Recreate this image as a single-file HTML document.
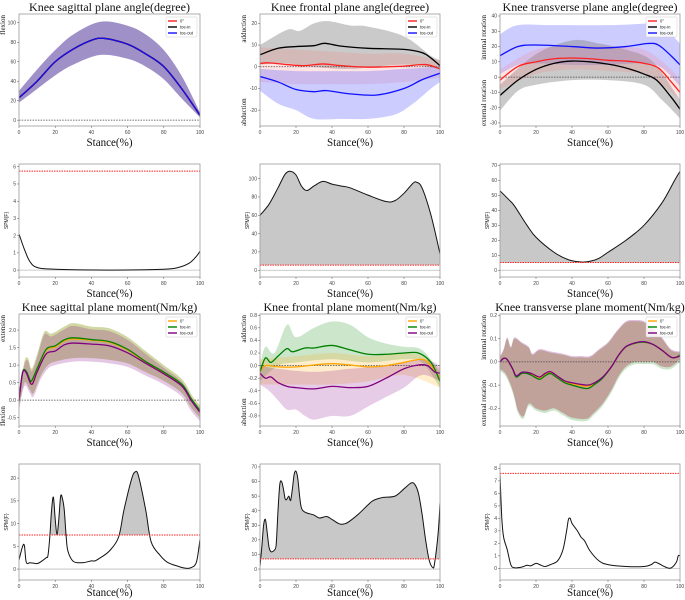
<!DOCTYPE html>
<html><head><meta charset="utf-8">
<style>
html,body{margin:0;padding:0;background:#fff;}
svg{display:block;font-family:"Liberation Serif",serif;}
.tk{font-family:"Liberation Sans",sans-serif;font-size:5px;fill:#444;}
</style></head>
<body>
<svg id="fig" width="685" height="600" viewBox="0 0 685 600" xmlns="http://www.w3.org/2000/svg"></svg>
<script>
// ---------- DATA ----------
const xTicks = [0,20,40,60,80,100];
// Row1 sagittal angle
const sagAngMean = [[0,23],[10,40],[20,60],[30,73],[40,82],[47,84],[60,78],[70,68],[80,55],[90,32],[100,5]];
const sagAngUp = [[0,30],[10,52],[20,72],[30,88],[45,101],[60,97],[70,88],[80,72],[90,45],[100,8]];
const sagAngLo = [[0,18],[10,32],[20,46],[30,57],[45,67],[60,63],[70,55],[80,42],[90,22],[100,3]];
// Row1 frontal angle
const frAngIn = [[0,5.5],[10,8.5],[20,9.3],[30,9.7],[36,10.8],[45,9.5],[60,8.5],[80,8],[90,6.5],[95,4],[100,0.5]];
const frAngZero = [[0,1.5],[5,1.8],[15,1],[25,0.5],[35,1.3],[45,0.5],[60,-0.2],[80,0.3],[92,1],[100,-1]];
const frAngOut = [[0,-4.5],[10,-7],[20,-10.5],[30,-11.5],[37,-11],[50,-12.5],[65,-13],[80,-10],[90,-6],[100,-3]];
const frAngInUp = [[0,10],[15,17],[22,16.5],[30,20],[38,21],[50,19],[60,18.5],[80,14],[95,5],[100,3]];
const frAngInLo = [[0,1],[15,1.5],[30,0],[50,-1],[80,1],[100,-1]];
const frAngZeroUp = [[0,9],[20,8],[40,7],[60,6],[80,6],[100,3]];
const frAngZeroLo = [[0,-7],[20,-8],[40,-8],[60,-8],[80,-7],[100,-5]];
const frAngOutUp = [[0,-1],[20,-2],[40,-2],[60,-2],[80,-1],[100,0]];
const frAngOutLo = [[0,-11],[10,-17],[20,-20],[30,-24],[45,-24],[60,-24],[75,-22],[85,-17],[95,-10],[100,-7]];
// Row1 transverse angle
const trAngZero = [[0,-2],[10,7],[20,10],[30,12],[40,12.5],[50,12],[60,11],[70,10.5],[80,9],[88,6],[95,-3],[100,-10]];
const trAngIn = [[0,-12],[10,-2],[20,5],[30,9],[40,10.5],[50,10],[60,8.5],[70,6],[80,2],[87,-2],[95,-13],[100,-21]];
const trAngOut = [[0,14],[10,20],[20,21],[40,20],[55,19],[70,20],[82,22],[88,21],[95,14],[100,8]];
const trAngOutUp = [[0,28],[10,34],[30,34],[60,34],[80,35],[88,36],[100,22]];
const trAngOutLo = [[0,2],[10,8],[20,9],[40,8],[60,8],[80,9],[90,6],[100,-6]];
const trAngInUp = [[0,-5],[20,15],[40,24],[55,22],[70,18],[85,10],[100,-15]];
const trAngInLo = [[0,-22],[10,-9],[20,-5],[40,-2],[60,-2],[80,-5],[90,-15],[100,-27]];
const trAngZeroUp = [[0,5],[20,18],[40,20],[60,20],[80,18],[95,5],[100,-3]];
const trAngZeroLo = [[0,-8],[20,2],[40,5],[60,4],[80,2],[90,-5],[100,-15]];
// Row2 SPM angle
const spmSagAng = [[0,2.1],[3,1.2],[6,0.5],[10,0.15],[20,0.05],[50,0],[80,0.05],[88,0.15],[94,0.4],[98,0.8],[100,1.1]];
const spmSagAngThr = [5.75];
const spmFrAng = [[0,60],[5,72],[10,90],[14,105],[17,108],[20,104],[23,92],[26,87],[30,92],[35,97],[40,94],[45,92],[50,90],[60,82],[70,75],[75,76],[80,84],[85,95],[87,96],[90,90],[95,60],[100,18]];
const spmFrAngThr = [5.5];
const spmTrAng = [[0,53],[5,47],[8,43],[15,30],[20,22],[30,12],[38,7],[45,5.5],[50,6],[55,8],[60,12],[70,20],[80,30],[90,45],[97,60],[100,66]];
const spmTrAngThr = [5.2];
// Row3 sagittal moment
const sagMomIn = [[0,0],[2,0.8],[4,0.82],[6,0.58],[7,0.55],[10,0.9],[15,1.45],[20,1.55],[25,1.72],[30,1.78],[40,1.73],[50,1.67],[60,1.45],[70,1.1],[80,0.8],[90,0.45],[95,0.05],[100,-0.3]];
const sagMomZero = [[0,0],[2,0.79],[4,0.8],[6,0.56],[7,0.53],[10,0.88],[15,1.42],[20,1.52],[25,1.69],[30,1.75],[40,1.71],[50,1.65],[60,1.43],[70,1.08],[80,0.78],[90,0.43],[95,0.03],[100,-0.32]];
const sagMomOut = [[0,0],[2,0.78],[4,0.78],[7,0.45],[10,0.8],[15,1.32],[20,1.4],[25,1.58],[30,1.63],[40,1.6],[50,1.55],[60,1.35],[70,1.05],[80,0.75],[90,0.4],[95,0],[100,-0.35]];
const sagMomUp = [[0,0.2],[3,1.1],[5,1.2],[7,0.9],[10,1.3],[14,1.95],[18,1.9],[25,2.1],[30,2.2],[40,2.1],[50,2.05],[60,1.8],[70,1.4],[80,1.0],[90,0.6],[96,0.1],[100,-0.15]];
const sagMomLo = [[0,-0.2],[3,0.5],[6,0.3],[8,0.2],[12,0.7],[16,1.0],[20,1.1],[30,1.2],[40,1.2],[50,1.15],[60,1.05],[70,0.8],[80,0.55],[90,0.2],[95,-0.2],[100,-0.5]];
// Row3 frontal moment
const frMomZero = [[0,-0.1],[3,0],[10,-0.02],[20,-0.02],[40,0.03],[60,-0.02],[70,0],[80,0.05],[90,0.1],[95,0],[100,-0.2]];
const frMomIn = [[0,-0.1],[3,0.12],[6,0.05],[10,0.15],[15,0.27],[18,0.22],[25,0.28],[30,0.28],[40,0.32],[50,0.25],[60,0.18],[70,0.18],[80,0.2],[88,0.2],[95,0.05],[100,-0.25]];
const frMomOut = [[0,-0.12],[3,-0.2],[6,-0.18],[10,-0.27],[15,-0.33],[20,-0.35],[30,-0.37],[40,-0.33],[50,-0.35],[60,-0.33],[70,-0.2],[80,-0.05],[88,0.01],[93,0],[97,-0.1],[100,-0.12]];
const frMomInUp = [[0,0],[3,0.3],[8,0.2],[15,0.65],[20,0.45],[30,0.6],[40,0.7],[50,0.65],[60,0.45],[70,0.35],[80,0.3],[90,0.25],[100,-0.1]];
const frMomInLo = [[0,-0.25],[10,0.0],[20,0.05],[40,0.1],[60,0.05],[80,0.1],[90,0.05],[100,-0.35]];
const frMomZeroUp = [[0,0.1],[20,0.15],[40,0.2],[60,0.15],[80,0.2],[90,0.15],[100,-0.05]];
const frMomZeroLo = [[0,-0.3],[20,-0.3],[40,-0.3],[60,-0.25],[80,-0.15],[100,-0.35]];
const frMomOutUp = [[0,0],[10,-0.05],[30,-0.1],[50,-0.05],[70,0],[90,0.1],[100,0]];
const frMomOutLo = [[0,-0.3],[5,-0.4],[10,-0.55],[15,-0.7],[20,-0.7],[25,-0.8],[30,-0.86],[40,-0.8],[50,-0.8],[60,-0.65],[70,-0.5],[80,-0.35],[90,-0.15],[100,-0.25]];
// Row3 transverse moment
const trMomIn = [[0,0],[2,0.015],[4,0.01],[7,-0.03],[9,-0.065],[12,-0.05],[15,-0.05],[18,-0.06],[22,-0.075],[25,-0.06],[28,-0.05],[32,-0.07],[36,-0.09],[40,-0.1],[48,-0.115],[52,-0.1],[57,-0.07],[62,-0.02],[66,0.03],[70,0.065],[75,0.08],[80,0.085],[85,0.075],[90,0.05],[95,0.02],[98,0.02],[100,0.03]];
const trMomZero = [[0,0],[2,0.015],[4,0.01],[7,-0.03],[9,-0.062],[12,-0.047],[15,-0.047],[18,-0.055],[22,-0.068],[25,-0.053],[28,-0.045],[32,-0.064],[36,-0.084],[40,-0.094],[48,-0.105],[52,-0.095],[57,-0.068],[62,-0.02],[66,0.03],[70,0.065],[75,0.08],[80,0.085],[85,0.075],[90,0.05],[95,0.02],[98,0.02],[100,0.025]];
const trMomOut = [[0,0],[2,0.015],[4,0.01],[7,-0.03],[9,-0.06],[12,-0.045],[15,-0.045],[18,-0.052],[22,-0.065],[25,-0.05],[28,-0.042],[32,-0.062],[36,-0.082],[40,-0.09],[48,-0.1],[52,-0.092],[57,-0.066],[62,-0.02],[66,0.03],[70,0.066],[75,0.082],[80,0.087],[85,0.075],[90,0.05],[95,0.02],[98,0.02],[100,0.025]];
const trMomUp = [[0,0.02],[2,0.05],[4,0.1],[6,0.06],[8,0.1],[12,0.08],[16,0.06],[18,0.03],[22,0.05],[28,0.04],[35,0.03],[40,0.02],[45,0.02],[50,0.02],[55,0.05],[60,0.08],[65,0.13],[70,0.17],[75,0.175],[80,0.17],[85,0.14],[90,0.1],[95,0.05],[100,0.04]];
const trMomLo = [[0,-0.03],[3,-0.05],[6,-0.1],[8,-0.15],[10,-0.21],[13,-0.235],[16,-0.18],[20,-0.2],[25,-0.21],[30,-0.2],[35,-0.22],[40,-0.24],[48,-0.245],[52,-0.22],[57,-0.18],[62,-0.12],[66,-0.06],[70,-0.02],[75,0],[80,0],[85,0],[90,-0.02],[95,-0.02],[100,0.01]];
// Row4 SPM moment
const spmSagMom = [[0,2],[2,5],[3,5.1],[4,1.5],[6,1.4],[8,1.3],[10,1.2],[12,1.6],[15,2.5],[16,3],[17,7],[18,13],[19,15.8],[20,11],[21,7.5],[22,11],[23,16],[24,15.5],[25,13],[26,7.5],[27,4],[30,1.7],[35,1.4],[40,1.8],[42,1.8],[45,2.5],[50,4],[55,7],[58,13],[62,19.5],[64,21.3],[66,20.5],[70,13],[73,6],[78,3],[82,1.5],[88,0.6],[92,0.2],[95,0.3],[98,1.5],[100,6.5]];
const spmSagMomThr = [7.5];
const spmFrMom = [[0,2],[1,15],[2,30],[3,34],[4,25],[5,15],[6,12],[7,12],[8,13],[9,17],[10,40],[11,58],[12,60],[13,55],[14,48],[15,48],[16,50],[17,47],[18,55],[19,65],[20,67],[21,62],[22,50],[23,42],[25,39],[30,37],[33,35],[37,36],[40,34],[44,31],[47,31],[50,33],[55,38],[60,44],[63,47],[68,49],[75,50],[80,55],[84,59],[86,58],[88,52],[90,38],[92,20],[94,6],[96,1],[97,4],[99,25],[100,45]];
const spmFrMomThr = [7];
const spmTrMom = [[0,7.5],[1,4],[2,2.5],[4,1.5],[6,0.3],[8,0.05],[12,0.1],[15,0.25],[17,0.2],[20,0.4],[22,0.3],[25,0.15],[28,0.3],[32,0.6],[35,1.5],[37,3],[38,3.9],[39,4],[40,3.6],[43,3],[45,2.5],[47,2.2],[50,1.4],[55,0.6],[60,0.3],[70,0.15],[80,0.15],[84,0.3],[86,0.5],[88,0.4],[92,0.1],[95,0.03],[98,0.5],[99,1],[100,1]];
const spmTrMomThr = [7.6];

// ---------- DRAW ----------
const NS = "http://www.w3.org/2000/svg";
const svg = document.getElementById('fig');
function mk(tag, attrs, parent){ const e=document.createElementNS(NS,tag); for(const k in attrs) e.setAttribute(k,attrs[k]); (parent||svg).appendChild(e); return e; }
const COLS=[[19,200],[260,440],[500,680]];
const ROWS=[[14,126],[164,277],[314,426],[464,580]];
const STANCE_OFF=[20,20,20,16];
function axes(c,r,ymin,ymax){
  const [x0,x1]=COLS[c],[y0,y1]=ROWS[r];
  return { X:v=>x0+(x1-x0)*v/100, Y:v=>y1-(y1-y0)*(v-ymin)/(ymax-ymin), x0,x1,y0,y1 };
}
function smooth(pts){
  let d='';
  for(let i=0;i<pts.length;i++){
    const p=pts[i];
    if(i===0){ d+='M'+p[0].toFixed(2)+','+p[1].toFixed(2); continue; }
    const p0=pts[Math.max(i-2,0)],p1=pts[i-1],p3=pts[Math.min(i+1,pts.length-1)];
    const c1=[p1[0]+(p[0]-p0[0])/6,p1[1]+(p[1]-p0[1])/6];
    const c2=[p[0]-(p3[0]-p1[0])/6,p[1]-(p3[1]-p1[1])/6];
    d+='C'+c1[0].toFixed(2)+','+c1[1].toFixed(2)+' '+c2[0].toFixed(2)+','+c2[1].toFixed(2)+' '+p[0].toFixed(2)+','+p[1].toFixed(2);
  }
  return d;
}
function px(a,data){ return data.map(d=>[a.X(d[0]),a.Y(d[1])]); }
function line(a,data,color,w,name,g){
  const e=mk('path',{d:smooth(px(a,data)),fill:'none',stroke:color,'stroke-width':w,'stroke-linejoin':'round'},g);
  
  
}
function band(a,up,lo,color,name,g){
  const u=px(a,up), l=px(a,lo).reverse();
  const d=smooth(u)+'L'+smooth(l).slice(1)+'Z';
  const e=mk('path',{d:d,fill:color,stroke:'none'},g);
  
  
}
let clipId=0;
function panel(c,r,ymin,ymax,yt,fmt,opts){
  const a=axes(c,r,ymin,ymax);
  const g=mk('g',{});
  
  
  const cid='clip'+(clipId++);
  const cp=mk('clipPath',{id:cid},g); mk('rect',{x:a.x0,y:a.y0,width:a.x1-a.x0,height:a.y1-a.y0},cp);
  const plot=mk('g',{'clip-path':'url(#'+cid+')'},g);
  opts.draw(a,plot);
  mk('rect',{x:a.x0,y:a.y0,width:a.x1-a.x0,height:a.y1-a.y0,fill:'none',stroke:'#9a9a9a','stroke-width':0.8},g);
  yt.forEach(v=>{
    const y=a.Y(v);
    mk('line',{x1:a.x0-2,x2:a.x0,y1:y,y2:y,stroke:'#555','stroke-width':0.5},g);
    const t=mk('text',{x:a.x0-3,y:y+1.7,'text-anchor':'end',class:'tk'},g); t.textContent=fmt(v);
    
    
  });
  xTicks.forEach(v=>{
    const x=a.X(v);
    mk('line',{x1:x,x2:x,y1:a.y1,y2:a.y1+2,stroke:'#555','stroke-width':0.5},g);
    const t=mk('text',{x:x,y:a.y1+8,'text-anchor':'middle',class:'tk'},g); t.textContent=v;
    
    
  });
  const sx=(a.x0+a.x1)/2;
  const st=mk('text',{x:sx,y:a.y1+STANCE_OFF[r],'text-anchor':'middle','font-size':12,fill:'#111',textLength:46,lengthAdjust:'spacingAndGlyphs'},g); st.textContent='Stance(%)';
  
  
  if(opts.title){
    const t=mk('text',{x:sx,y:a.y0-3,'text-anchor':'middle','font-size':12,fill:'#111'},g); t.textContent=opts.title;
    
    
  }
  const lx=a.x0-14;
  if(opts.ylabTop){
    const t=mk('text',{x:0,y:0,'text-anchor':'end','font-size':7,fill:'#111',transform:'translate('+lx+','+(a.y0+1)+') rotate(-90)'},g); t.textContent=opts.ylabTop;
    
    
  }
  if(opts.ylabBot){
    const t=mk('text',{x:0,y:0,'text-anchor':'start','font-size':7,fill:'#111',transform:'translate('+lx+','+(a.y1)+') rotate(-90)'},g); t.textContent=opts.ylabBot;
    
    
  }
  if(opts.spm){
    const t=mk('text',{x:0,y:0,'text-anchor':'middle','font-size':5,fill:'#222','font-family':'Liberation Sans',transform:'translate('+(a.x0-11)+','+((a.y0+a.y1)/2)+') rotate(-90)'},g); t.textContent='SPM{F}';
    
    
  }
  if(opts.legend){
    const lw=31, lh=20, lx0=a.x1-lw-3, ly0=a.y0+3;
    const lg=mk('g',{},g);
    
    
    mk('rect',{x:lx0,y:ly0,width:lw,height:lh,fill:'#fff','fill-opacity':0.85,stroke:'#ccc','stroke-width':0.5,rx:1},lg);
    opts.legend.forEach((it,i)=>{
      const y=ly0+4+i*6;
      mk('line',{x1:lx0+2,x2:lx0+11,y1:y,y2:y,stroke:it[1],'stroke-width':1.4},lg);
      const t=mk('text',{x:lx0+14,y:y+1.5,'font-size':4.2,fill:'#222','font-family':'Liberation Sans'},lg); t.textContent=it[0];
      
      
    });
  }
  return a;
}
function zeroDash(a,g){ mk('line',{x1:a.x0,x2:a.x1,y1:a.Y(0),y2:a.Y(0),stroke:'#444','stroke-width':0.7,'stroke-dasharray':'1.5,1.2'},g); }
function spmDraw(data,thr,fill){
  return (a,g)=>{
    mk('line',{x1:a.x0,x2:a.x1,y1:a.Y(0),y2:a.Y(0),stroke:'#bbb','stroke-width':0.8},g);
    if(fill){
      const cid='spmclip'+(clipId++);
      const cp=mk('clipPath',{id:cid},g); mk('rect',{x:a.x0,y:a.y0,width:a.x1-a.x0,height:a.Y(thr)-a.y0},cp);
      const d=smooth(px(a,data))+'L'+a.X(100)+','+a.Y(thr)+'L'+a.X(0)+','+a.Y(thr)+'Z';
      const e=mk('path',{d:d,fill:'#c8c8c8',stroke:'none','clip-path':'url(#'+cid+')'},g);
      
      
    }
    line(a,data,'#111',1,'spm-f-curve',g);
    const th=mk('line',{x1:a.x0,x2:a.x1,y1:a.Y(thr),y2:a.Y(thr),stroke:'#ff2020','stroke-width':1,'stroke-dasharray':'1.5,1'},g);
    
    
  };
}
const LA=[['0°','#ff2020'],['toe-in','#000'],['toe-out','#1010ff']];
const LM=[['0°','#ffa500'],['toe-in','#008000'],['toe-out','#800080']];
const f0=v=>String(v), f1=v=>v.toFixed(1);

// Row 1
panel(0,0,-6,109,[0,20,40,60,80,100],f0,{name:'sagittal-angle-panel',title:'Knee sagittal plane angle(degree)',ylabTop:'flexion',legend:LA,draw:(a,g)=>{
  band(a,sagAngUp,sagAngLo,'#a090c8','sd-band',g);
  zeroDash(a,g);
  line(a,sagAngMean,'#ff2020',1.5,'mean-0deg',g);
  line(a,sagAngMean,'#000',1.4,'mean-toe-in',g);
  line(a,sagAngMean,'#1010ff',1.2,'mean-toe-out',g);
}});
panel(1,0,-27.3,24.3,[-20,-10,0,10,20],f0,{name:'frontal-angle-panel',title:'Knee frontal plane angle(degree)',ylabTop:'adduction',ylabBot:'abduction',legend:LA,draw:(a,g)=>{
  band(a,frAngInUp,frAngInLo,'rgba(128,128,128,0.42)','sd-band-toe-in',g);
  band(a,frAngZeroUp,frAngZeroLo,'rgba(255,120,120,0.2)','sd-band-0deg',g);
  band(a,frAngOutUp,frAngOutLo,'rgba(100,100,255,0.33)','sd-band-toe-out',g);
  zeroDash(a,g);
  line(a,frAngZero,'#ff2020',1.3,'mean-0deg',g);
  line(a,frAngIn,'#000',1.3,'mean-toe-in',g);
  line(a,frAngOut,'#1010ff',1.3,'mean-toe-out',g);
}});
panel(2,0,-32,41.3,[-30,-20,-10,0,10,20,30,40],f0,{name:'transverse-angle-panel',title:'Knee transverse plane angle(degree)',ylabTop:'internal rotation',ylabBot:'external rotation',legend:LA,draw:(a,g)=>{
  band(a,trAngOutUp,trAngOutLo,'rgba(100,100,255,0.33)','sd-band-toe-out',g);
  band(a,trAngInUp,trAngInLo,'rgba(128,128,128,0.42)','sd-band-toe-in',g);
  band(a,trAngZeroUp,trAngZeroLo,'rgba(255,120,120,0.2)','sd-band-0deg',g);
  zeroDash(a,g);
  line(a,trAngZero,'#ff2020',1.3,'mean-0deg',g);
  line(a,trAngIn,'#000',1.3,'mean-toe-in',g);
  line(a,trAngOut,'#1010ff',1.3,'mean-toe-out',g);
}});
// Row 2
panel(0,1,-0.4,6.16,[0,1,2,3,4,5,6],f0,{name:'spm-sagittal-angle',spm:true,draw:spmDraw(spmSagAng,spmSagAngThr[0],false)});
panel(1,1,-7.4,116,[0,20,40,60,80,100],f0,{name:'spm-frontal-angle',spm:true,draw:spmDraw(spmFrAng,spmFrAngThr[0],true)});
panel(2,1,-4.5,70.9,[0,10,20,30,40,50,60,70],f0,{name:'spm-transverse-angle',spm:true,draw:spmDraw(spmTrAng,spmTrAngThr[0],true)});
// Row 3
panel(0,2,-0.74,2.46,[-0.5,0,0.5,1,1.5,2],f1,{name:'sagittal-moment-panel',title:'Knee sagittal plane moment(Nm/kg)',ylabTop:'extension',ylabBot:'flexion',legend:LM,draw:(a,g)=>{
  band(a,sagMomUp,sagMomLo,'rgba(0,128,0,0.22)','sd-band-toe-in',g);
  band(a,sagMomUp,sagMomLo,'rgba(255,165,0,0.18)','sd-band-0deg',g);
  band(a,sagMomUp.map(d=>[d[0],d[1]-0.08]),sagMomLo.map(d=>[d[0],d[1]-0.1]),'rgba(128,0,128,0.22)','sd-band-toe-out',g);
  zeroDash(a,g);
  line(a,sagMomZero,'#ffa500',1.3,'mean-0deg',g);
  line(a,sagMomIn,'#008000',1.3,'mean-toe-in',g);
  line(a,sagMomOut,'#800080',1.3,'mean-toe-out',g);
}});
panel(1,2,-0.96,0.82,[-0.8,-0.6,-0.4,-0.2,0,0.2,0.4,0.6,0.8],f1,{name:'frontal-moment-panel',title:'Knee frontal plane moment(Nm/kg)',ylabTop:'adduction',ylabBot:'abduction',legend:LM,draw:(a,g)=>{
  band(a,frMomInUp,frMomInLo,'rgba(0,128,0,0.2)','sd-band-toe-in',g);
  band(a,frMomZeroUp,frMomZeroLo,'rgba(255,165,0,0.2)','sd-band-0deg',g);
  band(a,frMomOutUp,frMomOutLo,'rgba(128,0,128,0.2)','sd-band-toe-out',g);
  zeroDash(a,g);
  line(a,frMomZero,'#ffa500',1.3,'mean-0deg',g);
  line(a,frMomIn,'#008000',1.3,'mean-toe-in',g);
  line(a,frMomOut,'#800080',1.3,'mean-toe-out',g);
}});
panel(2,2,-0.276,0.206,[-0.2,-0.1,0,0.1,0.2],f1,{name:'transverse-moment-panel',title:'Knee transverse plane moment(Nm/kg)',ylabTop:'internal rotation',ylabBot:'external rotation',legend:LM,draw:(a,g)=>{
  band(a,trMomUp,trMomLo.map(d=>[d[0],d[1]-0.01]),'rgba(0,128,0,0.2)','sd-band-toe-in',g);
  band(a,trMomUp,trMomLo,'rgba(255,165,0,0.2)','sd-band-0deg',g);
  band(a,trMomUp.map(d=>[d[0],d[1]+0.005]),trMomLo,'rgba(128,0,128,0.25)','sd-band-toe-out',g);
  zeroDash(a,g);
  line(a,trMomZero,'#ffa500',1.3,'mean-0deg',g);
  line(a,trMomIn,'#008000',1.3,'mean-toe-in',g);
  line(a,trMomOut,'#800080',1.3,'mean-toe-out',g);
}});
// Row 4
panel(0,3,-2.4,23.1,[0,5,10,15,20],f0,{name:'spm-sagittal-moment',spm:true,draw:spmDraw(spmSagMom,spmSagMomThr[0],true)});
panel(1,3,-7.5,72,[0,10,20,30,40,50,60,70],f0,{name:'spm-frontal-moment',spm:true,draw:spmDraw(spmFrMom,spmFrMomThr[0],true)});
panel(2,3,-0.93,8.35,[0,1,2,3,4,5,6,7,8],f0,{name:'spm-transverse-moment',spm:true,draw:spmDraw(spmTrMom,spmTrMomThr[0],false)});
</script>
</body></html>
